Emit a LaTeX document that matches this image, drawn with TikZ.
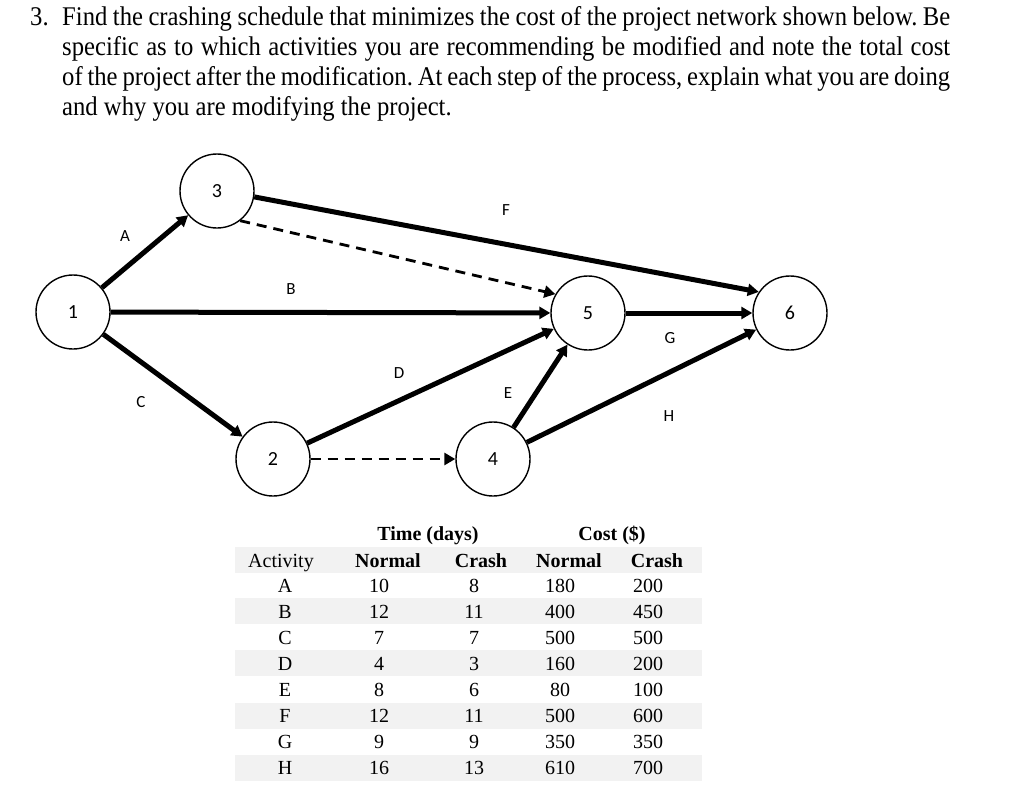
\documentclass[tikz,border=0pt]{standalone}
\usepackage{fontspec}
\setmainfont{Liberation Serif}
\newfontfamily\headfont[FakeStretch=0.913]{Liberation Serif}
\newfontfamily\calfont{Carlito}
\usetikzlibrary{arrows.meta}
\definecolor{bandgray}{RGB}{242,242,242}
\begin{document}
\begin{tikzpicture}[x=1pt,y=-1pt,
  ev/.style={circle,draw,line width=1.4pt,minimum size=74pt,inner sep=0pt,font=\calfont\fontsize{20}{24}\selectfont},
  act/.style={line width=5pt,-{Triangle[length=11pt,width=12pt]}},
  dum/.style={line width=2.8pt,dash pattern=on 10pt off 7pt,-{Triangle[length=11pt,width=12pt]}},
  lab/.style={font=\calfont\fontsize{17}{20}\selectfont},
  cell/.style={font=\fontsize{20}{24}\selectfont,anchor=base,inner sep=0pt},
  hcell/.style={cell,font=\bfseries\fontsize{20}{24}\selectfont},
  band/.style={fill=bandgray,draw=none}]
\useasboundingbox (0,0) rectangle (1024,806);
% heading
\node[anchor=base west,inner sep=0pt] (num) at (30,25) {\headfont\fontsize{27}{30}\selectfont 3.};
\node[anchor=base west,inner sep=0pt] (q) at (62,25) {\parbox[t]{888pt}{\headfont\fontsize{27}{30}\selectfont\frenchspacing\hyphenpenalty=10000\parindent=0pt
Find the crashing schedule that minimizes the cost of the project network shown below. Be\linebreak
specific as to which activities you are recommending be modified and note the total cost\linebreak
of the project after the modification. At each step of the process, explain what you are doing\linebreak
and why you are modifying the project.}};
% events
\node[ev] (n1) at (73,312) {1};
\node[ev] (n3) at (217,191) {3};
\node[ev] (n2) at (273,459) {2};
\node[ev] (n4) at (493,459) {4};
\node[ev] (n5) at (588,313) {5};
\node[ev] (n6) at (790,313) {6};
% activities
\draw[act] (n1) -- (n3);
\draw[act] (n3.-9) -- (n6.146);
\draw[dum] (n3.-52) -- (n5.150);
\draw[act] (n1) -- (n5);
\draw[act] (n1) -- (n2);
\draw[act] (n2) -- (n5);
\draw[dum] (n2) -- (n4);
\draw[act] (n4) -- (n5);
\draw[act] (n5) -- (n6);
\draw[act] (n4) -- (n6);
% labels
\node[lab] (lA) at (125,236) {A};
\node[lab] (lF) at (506,210) {F};
\node[lab] (lB) at (291,289) {B};
\node[lab] (lC) at (141,402) {C};
\node[lab] (lD) at (399,373) {D};
\node[lab] (lE) at (508,393) {E};
\node[lab] (lG) at (670,338) {G};
\node[lab] (lH) at (669,416) {H};
% table bands
\fill[band] (235,547) rectangle (702,573);
\foreach \i in {1,3,5,7} {
  \fill[band] (235,{572+26.1*\i}) rectangle (702,{598+26.1*\i});
}
% table text
\node[hcell] (tTime) at (428,540) {Time (days)};
\node[hcell] (tCost) at (612,540) {Cost (\$)};
\node[cell] (hAct) at (281,567) {Activity};
\node[hcell] (hTN) at (388,567) {Normal};
\node[hcell] (hTC) at (481,567) {Crash};
\node[hcell] (hCN) at (569,567) {Normal};
\node[hcell] (hCC) at (657,567) {Crash};
\foreach \a/\tn/\tc/\cn/\cc [count=\i from 0] in
  {A/10/8/180/200, B/12/11/400/450, C/7/7/500/500, D/4/3/160/200,
   E/8/6/80/100, F/12/11/500/600, G/9/9/350/350, H/16/13/610/700} {
  \node[cell] (r\a) at (285,{592+26.1*\i}) {\a};
  \node[cell] (r\a tn) at (379,{592+26.1*\i}) {\tn};
  \node[cell] (r\a tc) at (474,{592+26.1*\i}) {\tc};
  \node[cell] (r\a cn) at (560,{592+26.1*\i}) {\cn};
  \node[cell] (r\a cc) at (648,{592+26.1*\i}) {\cc};
}
\end{tikzpicture}
\end{document}
